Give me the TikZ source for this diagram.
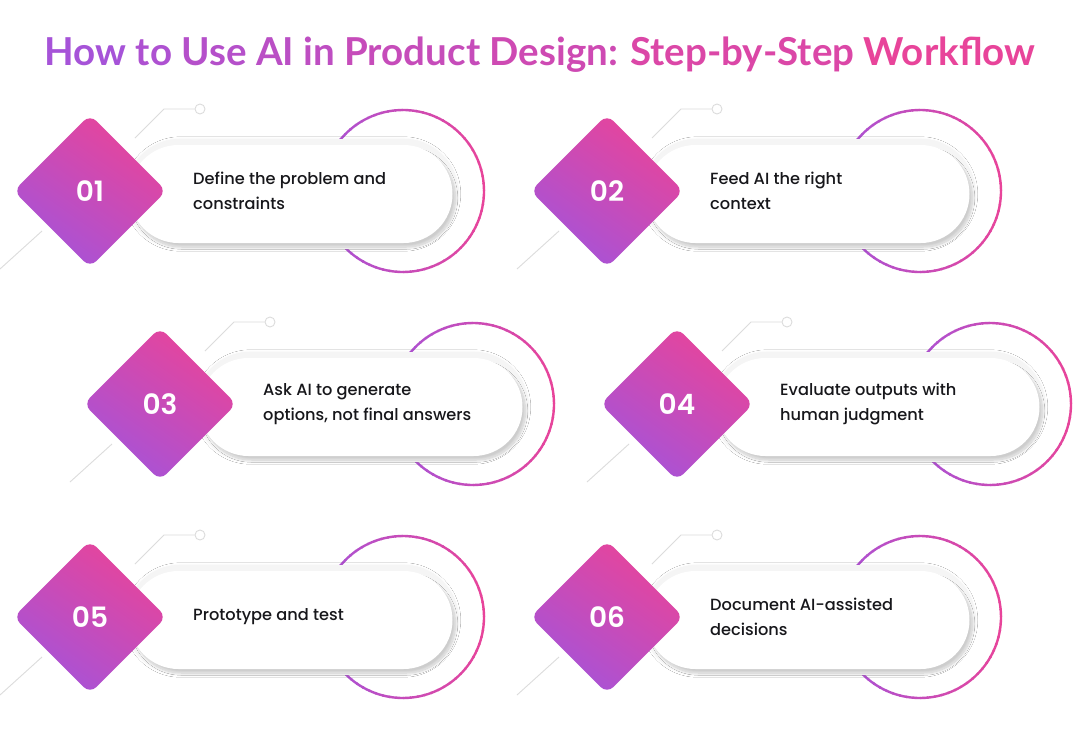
\documentclass[tikz,border=0pt]{standalone}
\usepackage{fontspec}
\IfFontExistsTF{Poppins Medium}{\setmainfont{Poppins Medium}[BoldFont=Poppins SemiBold]}{\setmainfont{Poppins}}
\newfontfamily\headfont{Lato}
\usetikzlibrary{shapes.geometric,calc,shadows.blur}
\definecolor{ink}{HTML}{17171B}
\definecolor{berry}{HTML}{E8449A}
\definecolor{orchid}{HTML}{A653D8}
\definecolor{wiregray}{HTML}{DCDCDC}

\tikzset{
  numbox/.style={diamond, minimum width=153pt, minimum height=153pt, inner sep=0pt,
    rounded corners=9pt, top color=berry, bottom color=orchid, shading angle=-35,
    text=white, font=\bfseries\fontsize{28}{28}\selectfont},
  halo/.style={fill=black!4, rounded corners=55pt, minimum width=333pt, minimum height=110pt,
    blur shadow={shadow xshift=0pt, shadow yshift=0pt, shadow opacity=6, shadow blur steps=10}},
  pill/.style={fill=white, rounded corners=49pt, minimum width=323pt, minimum height=98pt,
    blur shadow={shadow xshift=3pt, shadow yshift=-4pt, shadow opacity=16, shadow blur steps=12}},
  steptext/.style={anchor=west, inner sep=0pt, align=left, text=ink,
    font=\fontsize{16.2}{25}\selectfont},
  wire/.style={draw=wiregray, line width=0.9pt},
  knob/.style={circle, draw=wiregray, fill=white, line width=0.9pt, minimum size=10pt, inner sep=0pt},
  ring/.style={line width=2.4pt}
}

\begin{document}
\begin{tikzpicture}[x=1pt,y=-1pt]
  \fill[white] (0,0) rectangle (1080,750);
  \useasboundingbox (0,0) rectangle (1080,750);

  % title
  \node[font=\headfont\bfseries\fontsize{38.5}{38.5}\selectfont] (title) at (540,55)
    {\textcolor{orchid}{How} \textcolor{berry!12!orchid}{to} \textcolor{berry!22!orchid}{Use}
     \textcolor{berry!30!orchid}{AI} \textcolor{berry!36!orchid}{in} \textcolor{berry!48!orchid}{Product}
     \textcolor{berry!60!orchid}{Design:} \textcolor{berry!80!orchid}{Step-by-Step}
     \textcolor{berry}{Workflow}};

  % cards
  \foreach \n/\x/\y/\lab in {01/90/191/{Define the problem and\\constraints},
      02/607/191/{Feed AI the right\\context},
      03/160/404/{Ask AI to generate\\options, not final answers},
      04/677/404/{Evaluate outputs with\\human judgment},
      05/90/617/{Prototype and test},
      06/607/617/{Document AI-assisted\\decisions}}{
    \coordinate (o\n) at (\x,\y);
    % thin lines
    \node[knob] (k\n) at ($(o\n)+(110,-82)$) {};
    \coordinate (s\n) at ($(o\n)+(45,-53)$);
    \draw[wire] (s\n) -- ++(29,-29) -- (k\n);
    \coordinate (u\n) at ($(o\n)+(-90,78)$);
    \coordinate (v\n) at ($(o\n)+(-48,40)$);
    \draw[wire] (u\n) -- (v\n);
    % ring
    \coordinate (c\n) at ($(o\n)+(313,0)$);
    \foreach \a in {0,5,...,355}{
      \pgfmathsetmacro\m{50+50*cos(\a)}
      \draw[ring, draw=berry!\m!orchid] ($(c\n)+(\a:81pt)$) arc[start angle=\a, end angle=\a+6, radius=81pt];
    }
    % card
    \node[halo] (h\n) at ($(o\n)+(202,3)$) {};
    \node[pill] (p\n) at ($(o\n)+(201,3)$) {};
    \node[numbox] (d\n) at (o\n) {\n};
    \node[steptext] (t\n) at ($(o\n)+(103,0)$) {\lab};
  }
\end{tikzpicture}
\end{document}
